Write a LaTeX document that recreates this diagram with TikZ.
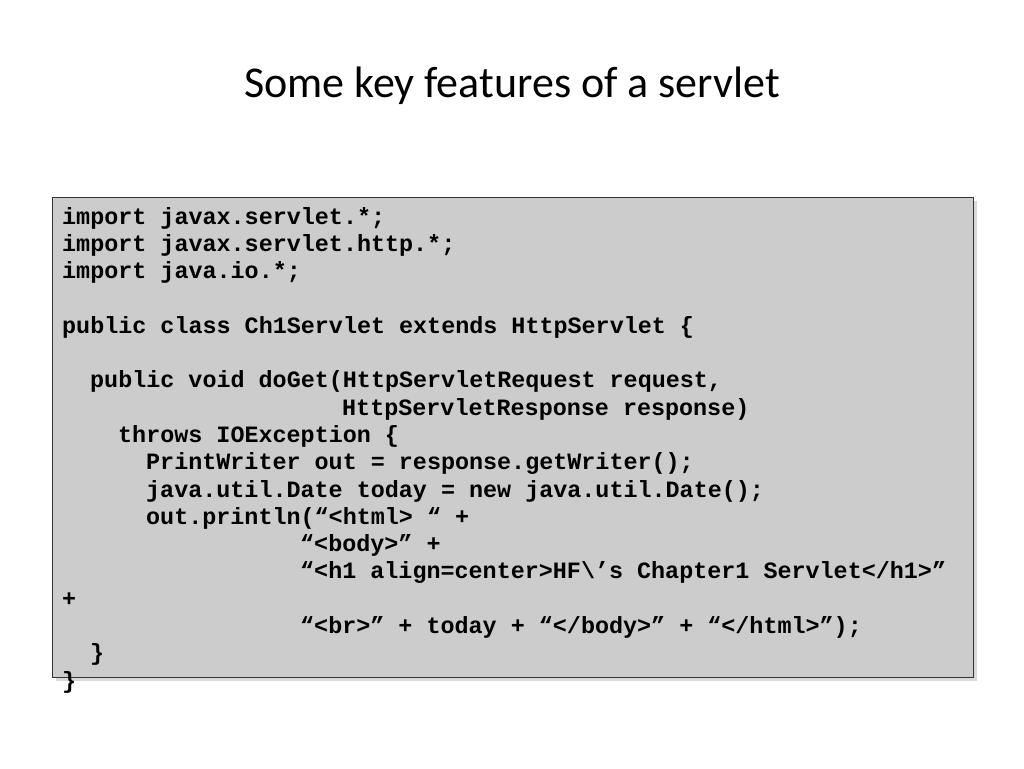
\documentclass[tikz,border=0pt]{standalone}
\usepackage{fontspec}
\setmainfont{Carlito}
\newfontfamily\code{Liberation Mono}
\begin{document}
\begin{tikzpicture}[x=1pt,y=-1pt,
  cl/.style={anchor=base west,inner sep=0pt,font=\code\bfseries\fontsize{23.4}{27}\selectfont}]
\useasboundingbox (0,0) rectangle (1024,768);
\fill[black!25,opacity=0.6] (56,201) rectangle (977,681);
\node[draw=black!80,line width=1pt,fill=black!20,minimum width=921pt,minimum height=480pt,anchor=north west,inner sep=0pt] (box) at (52,197) {};
\node[inner sep=0pt,font=\fontsize{44}{50}\selectfont] (title) at (512,86) {Some key features of a servlet};
\def\L#1#2#3{\node[cl] (l#1) at ({62+14*#2},{224+27.3*#1}) {#3};}
\L{0}{0}{import javax.servlet.*;}
\L{1}{0}{import javax.servlet.http.*;}
\L{2}{0}{import java.io.*;}
\L{4}{0}{public class Ch1Servlet extends HttpServlet \{}
\L{6}{2}{public void doGet(HttpServletRequest request,}
\L{7}{20}{HttpServletResponse response)}
\L{8}{4}{throws IOException \{}
\L{9}{6}{PrintWriter out = response.getWriter();}
\L{10}{6}{java.util.Date today = new java.util.Date();}
\L{11}{6}{out.println(“<html> “ +}
\L{12}{17}{“<body>” +}
\L{13}{17}{“<h1 align=center>HF\textbackslash’s Chapter1 Servlet</h1>”}
\L{14}{0}{+}
\L{15}{17}{“<br>” + today + “</body>” + “</html>”);}
\L{16}{2}{\}}
\L{17}{0}{\}}
\end{tikzpicture}
\end{document}
